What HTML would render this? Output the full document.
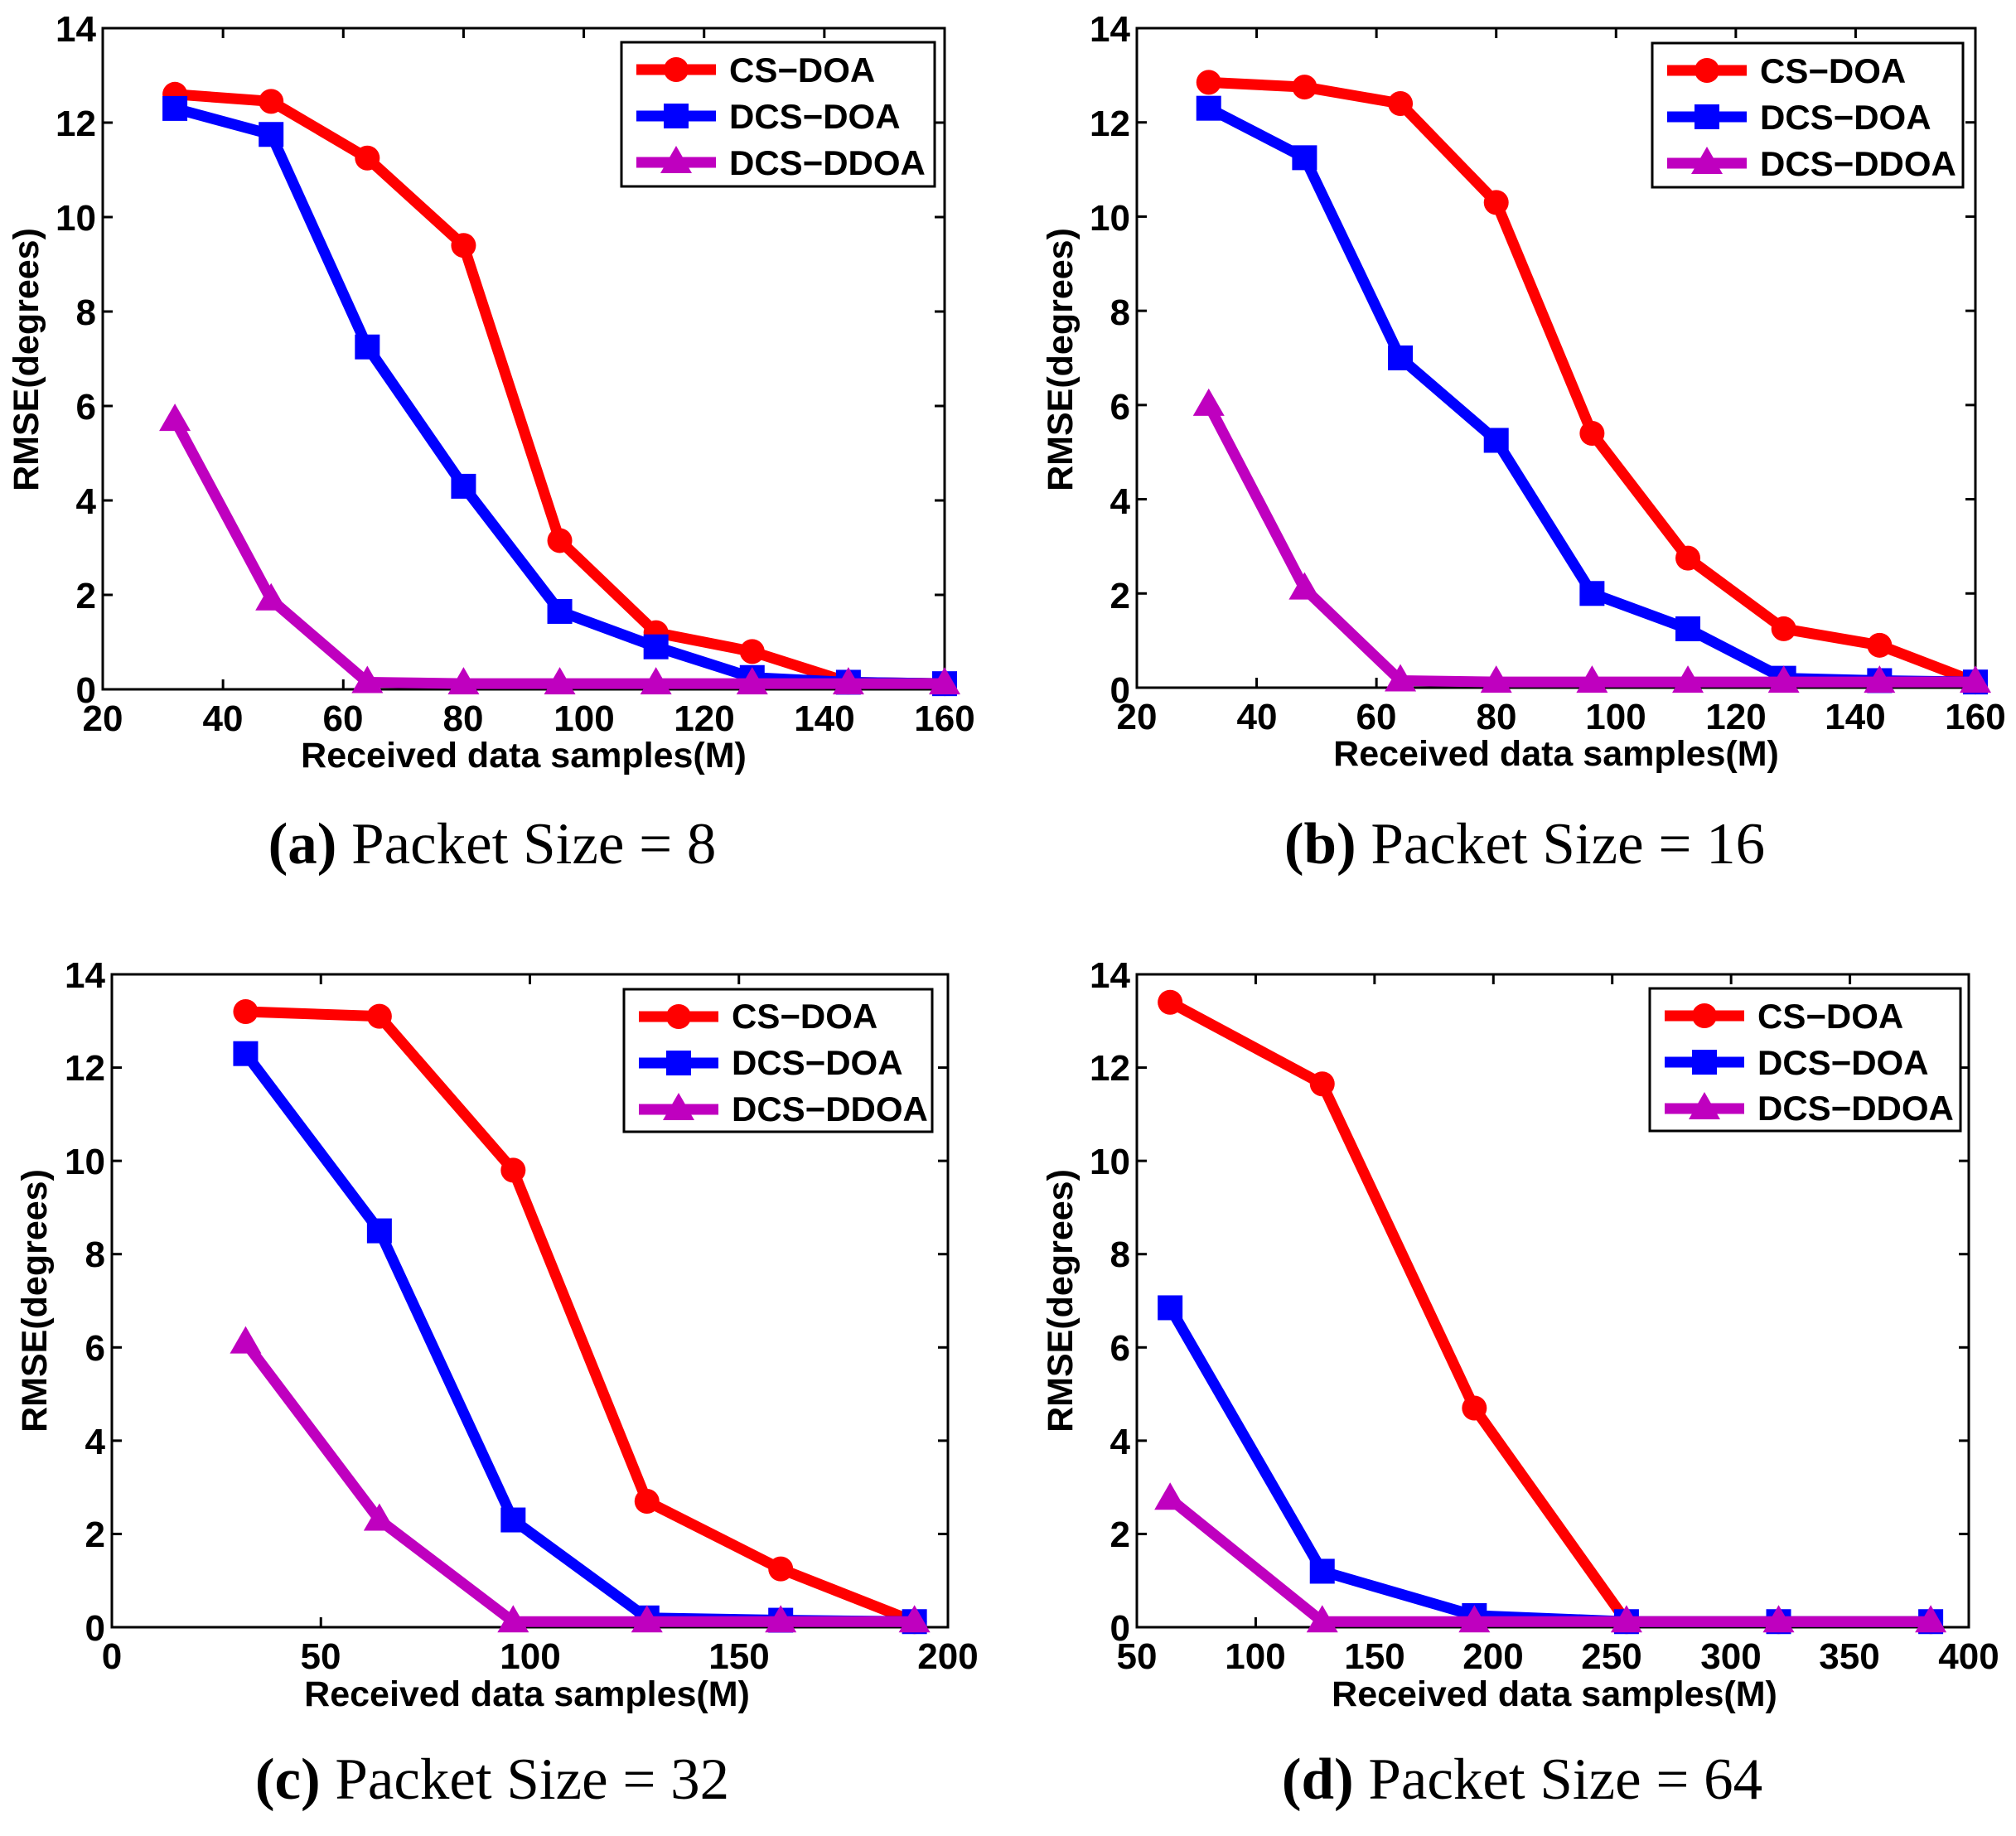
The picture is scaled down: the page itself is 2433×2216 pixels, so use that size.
<!DOCTYPE html>
<html><head><meta charset="utf-8"><style>
html,body{margin:0;padding:0;background:#fff}
svg{display:block}
.t{font-family:"Liberation Sans",sans-serif;font-weight:bold;font-size:44px;fill:#000}
.g{font-family:"Liberation Sans",sans-serif;font-weight:bold;font-size:42px;fill:#000}
.l{font-family:"Liberation Sans",sans-serif;font-weight:bold;font-size:43px;fill:#000}
.c{font-family:"Liberation Serif",serif;font-size:71px;fill:#000}
</style></head><body>
<svg id="s" width="2433" height="2216" viewBox="0 0 2433 2216" xmlns="http://www.w3.org/2000/svg">
<g id="g"></g>
<g class="t" text-anchor="middle">
<text x="124" y="882">20</text><text x="269" y="882">40</text><text x="414" y="882">60</text><text x="559" y="882">80</text><text x="705" y="882">100</text><text x="850" y="882">120</text><text x="995" y="882">140</text><text x="1140" y="882">160</text>
<text x="1372" y="880">20</text><text x="1517" y="880">40</text><text x="1661" y="880">60</text><text x="1806" y="880">80</text><text x="1950" y="880">100</text><text x="2095" y="880">120</text><text x="2239" y="880">140</text><text x="2384" y="880">160</text>
<text x="135" y="2014">0</text><text x="387" y="2014">50</text><text x="640" y="2014">100</text><text x="892" y="2014">150</text><text x="1144" y="2014">200</text>
<text x="1372" y="2014">50</text><text x="1515" y="2014">100</text><text x="1659" y="2014">150</text><text x="1802" y="2014">200</text><text x="1945" y="2014">250</text><text x="2089" y="2014">300</text><text x="2232" y="2014">350</text><text x="2376" y="2014">400</text>
</g>
<g class="t" text-anchor="end">
<text x="116" y="848">0</text><text x="116" y="734">2</text><text x="116" y="620">4</text><text x="116" y="506">6</text><text x="116" y="392">8</text><text x="116" y="278">10</text><text x="116" y="164">12</text><text x="116" y="50">14</text>
<text x="1364" y="848">0</text><text x="1364" y="734">2</text><text x="1364" y="620">4</text><text x="1364" y="506">6</text><text x="1364" y="392">8</text><text x="1364" y="278">10</text><text x="1364" y="164">12</text><text x="1364" y="50">14</text>
<text x="127" y="1980">0</text><text x="127" y="1867">2</text><text x="127" y="1755">4</text><text x="127" y="1642">6</text><text x="127" y="1529">8</text><text x="127" y="1417">10</text><text x="127" y="1304">12</text><text x="127" y="1192">14</text>
<text x="1364" y="1980">0</text><text x="1364" y="1867">2</text><text x="1364" y="1755">4</text><text x="1364" y="1642">6</text><text x="1364" y="1529">8</text><text x="1364" y="1417">10</text><text x="1364" y="1304">12</text><text x="1364" y="1192">14</text>
</g>
<g class="l" text-anchor="middle">
<text x="632" y="926">Received data samples(M)</text>
<text x="1878" y="924">Received data samples(M)</text>
<text x="636" y="2059">Received data samples(M)</text>
<text x="1876" y="2059">Received data samples(M)</text>
<text transform="translate(46,434) rotate(-90)">RMSE(degrees)</text>
<text transform="translate(1294,434) rotate(-90)">RMSE(degrees)</text>
<text transform="translate(56,1570) rotate(-90)">RMSE(degrees)</text>
<text transform="translate(1294,1570) rotate(-90)">RMSE(degrees)</text>
</g>
<g class="c" text-anchor="middle">
<text x="594" y="1042"><tspan font-weight="bold">(a)</tspan> Packet Size = 8</text>
<text x="1840" y="1042"><tspan font-weight="bold">(b)</tspan> Packet Size = 16</text>
<text x="594" y="2171"><tspan font-weight="bold">(c)</tspan> Packet Size = 32</text>
<text x="1837" y="2171"><tspan font-weight="bold">(d)</tspan> Packet Size = 64</text>
</g>
<g class="g">
<text x="880" y="99">CS−DOA</text><text x="880" y="155">DCS−DOA</text><text x="880" y="211">DCS−DDOA</text>
<text x="2124" y="100">CS−DOA</text><text x="2124" y="156">DCS−DOA</text><text x="2124" y="212">DCS−DDOA</text>
<text x="883" y="1241">CS−DOA</text><text x="883" y="1297">DCS−DOA</text><text x="883" y="1353">DCS−DDOA</text>
<text x="2121" y="1241">CS−DOA</text><text x="2121" y="1297">DCS−DOA</text><text x="2121" y="1352">DCS−DDOA</text>
</g>
</svg>
<script>
var NS="http://www.w3.org/2000/svg",G=document.getElementById("g");
function el(n,a){var e=document.createElementNS(NS,n);for(var k in a)e.setAttribute(k,a[k]);G.appendChild(e);return e;}
var C={r:"#ff0000",b:"#0000ff",m:"#bf00bf"};
function mk(t,x,y,c){
 if(t=="r")el("circle",{cx:x,cy:y,r:15,fill:c});
 else if(t=="b")el("rect",{x:x-15,y:y-15,width:30,height:30,fill:c});
 else el("polygon",{points:(x)+","+(y-20)+" "+(x-19)+","+(y+13)+" "+(x+19)+","+(y+13),fill:c});
}
var P=[
 {x0:124,x1:1140,y0:832,y1:34,xa:20,xb:160,xt:[20,40,60,80,100,120,140,160],
  X:[32,48,64,80,96,112,128,144,160],
  r:[12.6,12.45,11.25,9.4,3.15,1.2,0.8,0.15,0.12],b:[12.3,11.75,7.25,4.3,1.65,0.9,0.25,0.15,0.12],m:[5.7,1.9,0.15,0.12,0.12,0.12,0.12,0.12,0.12],
  lg:[750,51,378,174]},
 {x0:1372,x1:2384,y0:830,y1:34,xa:20,xb:160,xt:[20,40,60,80,100,120,140,160],
  X:[32,48,64,80,96,112,128,144,160],
  r:[12.85,12.75,12.4,10.3,5.4,2.75,1.25,0.9,0.12],b:[12.3,11.25,7,5.25,2,1.25,0.2,0.15,0.12],m:[6,2.1,0.15,0.12,0.12,0.12,0.12,0.12,0.12],
  lg:[1994,52,375,174]},
 {x0:135,x1:1144,y0:1964,y1:1176,xa:0,xb:200,xt:[0,50,100,150,200],
  X:[32,64,96,128,160,192],
  r:[13.2,13.1,9.8,2.7,1.25,0.12],b:[12.3,8.5,2.3,0.2,0.15,0.12],m:[6.1,2.3,0.12,0.12,0.12,0.12],
  lg:[753,1194,372,172]},
 {x0:1372,x1:2376,y0:1964,y1:1176,xa:50,xb:400,xt:[50,100,150,200,250,300,350,400],
  X:[64,128,192,256,320,384],
  r:[13.4,11.65,4.7,0.12,0.12,0.12],b:[6.85,1.2,0.25,0.12,0.12,0.12],m:[2.75,0.12,0.12,0.12,0.12,0.12],
  lg:[1991,1193,375,172]}
];
P.forEach(function(p){
 function fx(v){return p.x0+(v-p.xa)/(p.xb-p.xa)*(p.x1-p.x0);}
 function fy(v){return p.y0-(v/14)*(p.y0-p.y1);}
 el("rect",{x:p.x0,y:p.y1,width:p.x1-p.x0,height:p.y0-p.y1,fill:"none",stroke:"#000","stroke-width":3});
 p.xt.forEach(function(v){var x=fx(v);el("line",{x1:x,y1:p.y0,x2:x,y2:p.y0-12,stroke:"#000","stroke-width":3});el("line",{x1:x,y1:p.y1,x2:x,y2:p.y1+12,stroke:"#000","stroke-width":3});});
 for(var i=0;i<=14;i+=2){var y=fy(i);el("line",{x1:p.x0,y1:y,x2:p.x0+12,y2:y,stroke:"#000","stroke-width":3});el("line",{x1:p.x1,y1:y,x2:p.x1-12,y2:y,stroke:"#000","stroke-width":3});}
 ["r","b","m"].forEach(function(s){
  var pts=p.X.map(function(x,i){return fx(x)+","+fy(p[s][i]);}).join(" ");
  el("polyline",{points:pts,fill:"none",stroke:C[s],"stroke-width":13,"stroke-linejoin":"round"});
  p.X.forEach(function(x,i){mk(s,fx(x),fy(p[s][i]),C[s]);});
 });
 var L=p.lg;
 el("rect",{x:L[0],y:L[1],width:L[2],height:L[3],fill:"#fff",stroke:"#000","stroke-width":3});
 ["r","b","m"].forEach(function(s,i){
  var y=L[1]+33+i*56,xa=L[0]+18,xb=L[0]+114;
  el("line",{x1:xa,y1:y,x2:xb,y2:y,stroke:C[s],"stroke-width":13});
  mk(s,(xa+xb)/2,y,C[s]);
 });
});
</script>
</body></html>
